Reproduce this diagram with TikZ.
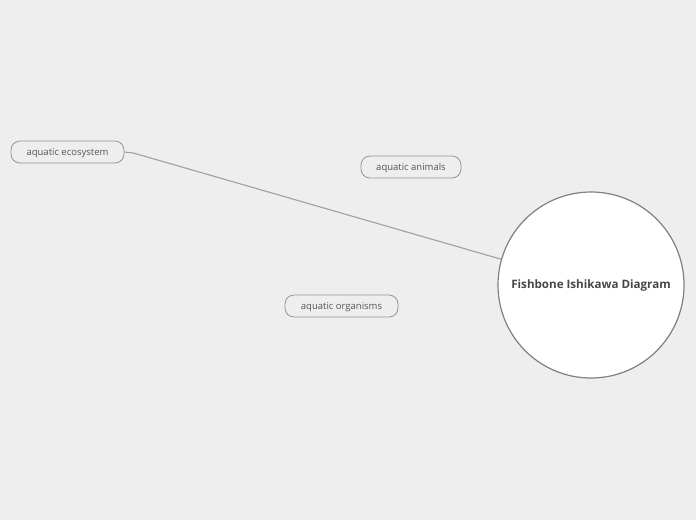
\documentclass[tikz,border=0pt]{standalone}
\usepackage{fontspec}
\setmainfont{Open Sans}
\definecolor{bg}{HTML}{EEEEEE}
\definecolor{edge}{HTML}{A0A0A0}
\definecolor{frame}{HTML}{969696}
\definecolor{txt}{HTML}{555555}
\begin{document}
\begin{tikzpicture}[x=1pt,y=-1pt,
  topic/.style={draw=frame,line width=0.8pt,rounded corners=9pt,minimum height=22pt,text=txt,font=\fontsize{9.5}{11}\selectfont,inner sep=0pt,text height=1.6ex,text depth=0.2ex},
  hub/.style={circle,draw=black!50,line width=1.2pt,fill=white,minimum size=186pt,text=black!72,font=\bfseries\fontsize{11.6}{13}\selectfont,text height=1.6ex,text depth=0.2ex}]
\fill[bg] (0,0) rectangle (696,520);
\node[hub] (c) at (591,285) {Fishbone Ishikawa Diagram};
\node[topic,minimum width=113pt] (eco) at (67.5,152) {aquatic ecosystem};
\node[topic,minimum width=100pt] (ani) at (411,167) {aquatic animals};
\node[topic,minimum width=113pt] (org) at (341.5,306) {aquatic organisms};
\draw[edge,line width=1.1pt] (eco.east) -- ++(9,1) -- (c.164);
\end{tikzpicture}
\end{document}
